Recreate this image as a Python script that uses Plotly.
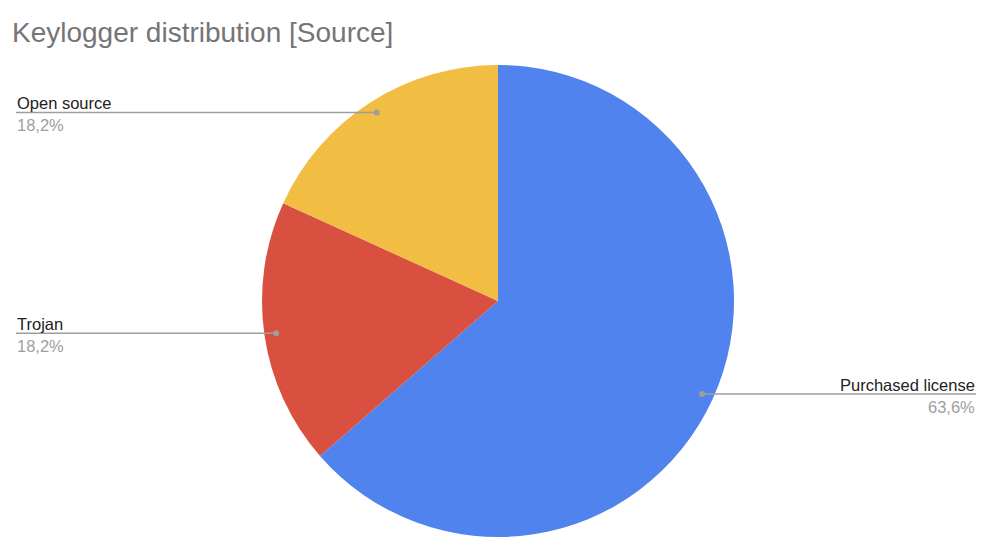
import math
import plotly.graph_objects as go

# Source data
sources = ['Purchased license', 'Trojan', 'Open source']
shares = [63.6, 18.2, 18.2]
colors = ['#5083ED', '#DA5040', '#F1BD42']

W, H = 996, 560
OFF = 8  # page body margin pushes the figure right/down by this much
m_top = 65 - OFF
plot_h = 472
m_bot = H - m_top - plot_h
m_left, m_right = 0, 2 * OFF
plot_w = W - m_left - m_right
radius_px = plot_h / 2


def to_paper(px, py):
    # px, py in screenshot pixels -> paper coords
    x = (px - OFF - m_left) / plot_w
    y = 1 - (py - OFF - m_top) / plot_h
    return x, y


fig = go.Figure(data=[
    go.Pie(
        labels=sources,
        values=shares,
        sort=False,
        direction='clockwise',
        rotation=0,
        textinfo='none',
        hoverinfo='label+percent',
        marker=dict(colors=colors, line=dict(width=0)),
        showlegend=False
    )
])

cx = OFF + m_left + plot_w / 2
cy = OFF + m_top + plot_h / 2

# leader lines + labels placed from the slice mid-angles
total = sum(shares)
cum = 0
for name, val in zip(sources, shares):
    mid = (cum + val / 2) / total * 2 * math.pi
    cum += val
    dx = math.sin(mid) * radius_px * 0.95
    dy = math.cos(mid) * radius_px * 0.95
    x_dot, y_dot = to_paper(cx + dx, cy - dy)
    right = dx > 0
    x_end = to_paper(976 if right else 16, 0)[0]
    fig.add_shape(type='line', xref='paper', yref='paper',
                  x0=x_dot, x1=x_end, y0=y_dot, y1=y_dot,
                  line=dict(color='#9e9e9e', width=1.5))
    fig.add_shape(type='circle', xref='paper', yref='paper',
                  x0=x_dot - 3 / plot_w, x1=x_dot + 3 / plot_w,
                  y0=y_dot - 3 / plot_h, y1=y_dot + 3 / plot_h,
                  fillcolor='#9e9e9e', line=dict(width=0))
    anchor = 'right' if right else 'left'
    fig.add_annotation(x=x_end, y=y_dot, xref='paper', yref='paper',
                       text=name, showarrow=False, xanchor=anchor,
                       yanchor='bottom', xshift=1 if right else -1, yshift=-2,
                       font=dict(size=16.5, color='#222222'))
    fig.add_annotation(x=x_end, y=y_dot, xref='paper', yref='paper',
                       text=('%.1f%%' % (val / total * 100)).replace('.', ','),
                       showarrow=False, xanchor=anchor, yanchor='top',
                       xshift=1 if right else -1, yshift=-2,
                       font=dict(size=16.5, color='#9e9e9e'))

fig.update_layout(
    title=dict(text='Keylogger distribution [Source]', x=(12 - OFF) / W,
               xanchor='left', y=1 - (32 - OFF) / H, yanchor='middle',
               font=dict(size=28, color='#757575')),
    font=dict(family='Liberation Sans, Arial, sans-serif'),
    width=W, height=H,
    margin=dict(l=m_left, r=m_right, t=m_top, b=m_bot),
    paper_bgcolor='#ffffff',
    plot_bgcolor='#ffffff'
)

fig.write_html('out.html')
